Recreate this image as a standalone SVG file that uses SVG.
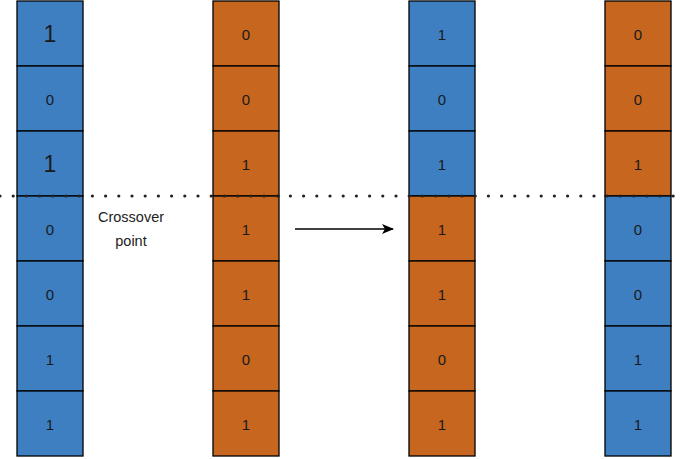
<svg xmlns="http://www.w3.org/2000/svg" width="685" height="459" viewBox="0 0 685 459">
<style>
.b{fill:#3E7FC2;stroke:#000;stroke-width:1.3}
.o{fill:#C6661F;stroke:#000;stroke-width:1.3}
.t{font-family:"Liberation Sans",Arial,sans-serif;font-size:15px;fill:#1a1a1a;text-anchor:middle;dominant-baseline:central}
.big{font-size:23px}
.lbl{font-family:"Liberation Sans",Arial,sans-serif;font-size:14.5px;fill:#222;text-anchor:middle}
</style>
<defs>
<marker id="ah" markerWidth="12" markerHeight="10" refX="11" refY="5" orient="auto" markerUnits="userSpaceOnUse">
<path d="M0,0 L12,5 L0,10 L3,5 Z" fill="#000"/>
</marker>
</defs>
<rect width="685" height="459" fill="#fff"/>
<g id="col1">
<rect class="b" x="17" y="1" width="66" height="65"/><text class="t big" x="50" y="34">1</text>
<rect class="b" x="17" y="66" width="66" height="65"/><text class="t" x="50" y="99">0</text>
<rect class="b" x="17" y="131" width="66" height="65"/><text class="t big" x="50" y="164">1</text>
<rect class="b" x="17" y="196" width="66" height="65"/><text class="t" x="50" y="229">0</text>
<rect class="b" x="17" y="261" width="66" height="65"/><text class="t" x="50" y="294">0</text>
<rect class="b" x="17" y="326" width="66" height="65"/><text class="t" x="50" y="359">1</text>
<rect class="b" x="17" y="391" width="66" height="65"/><text class="t" x="50" y="424">1</text>
</g>
<g id="col2">
<rect class="o" x="213" y="1" width="66" height="65"/><text class="t" x="246" y="34">0</text>
<rect class="o" x="213" y="66" width="66" height="65"/><text class="t" x="246" y="99">0</text>
<rect class="o" x="213" y="131" width="66" height="65"/><text class="t" x="246" y="164">1</text>
<rect class="o" x="213" y="196" width="66" height="65"/><text class="t" x="246" y="229">1</text>
<rect class="o" x="213" y="261" width="66" height="65"/><text class="t" x="246" y="294">1</text>
<rect class="o" x="213" y="326" width="66" height="65"/><text class="t" x="246" y="359">0</text>
<rect class="o" x="213" y="391" width="66" height="65"/><text class="t" x="246" y="424">1</text>
</g>
<g id="col3">
<rect class="b" x="409" y="1" width="66" height="65"/><text class="t" x="442" y="34">1</text>
<rect class="b" x="409" y="66" width="66" height="65"/><text class="t" x="442" y="99">0</text>
<rect class="b" x="409" y="131" width="66" height="65"/><text class="t" x="442" y="164">1</text>
<rect class="o" x="409" y="196" width="66" height="65"/><text class="t" x="442" y="229">1</text>
<rect class="o" x="409" y="261" width="66" height="65"/><text class="t" x="442" y="294">1</text>
<rect class="o" x="409" y="326" width="66" height="65"/><text class="t" x="442" y="359">0</text>
<rect class="o" x="409" y="391" width="66" height="65"/><text class="t" x="442" y="424">1</text>
</g>
<g id="col4">
<rect class="o" x="605" y="1" width="66" height="65"/><text class="t" x="638" y="34">0</text>
<rect class="o" x="605" y="66" width="66" height="65"/><text class="t" x="638" y="99">0</text>
<rect class="o" x="605" y="131" width="66" height="65"/><text class="t" x="638" y="164">1</text>
<rect class="b" x="605" y="196" width="66" height="65"/><text class="t" x="638" y="229">0</text>
<rect class="b" x="605" y="261" width="66" height="65"/><text class="t" x="638" y="294">0</text>
<rect class="b" x="605" y="326" width="66" height="65"/><text class="t" x="638" y="359">1</text>
<rect class="b" x="605" y="391" width="66" height="65"/><text class="t" x="638" y="424">1</text>
</g>
<g id="label">
<text class="lbl" x="131" y="222">Crossover</text>
<text class="lbl" x="131" y="246">point</text>
</g>
<g id="connectors">
<line x1="0" y1="196" x2="685" y2="196" stroke="#222" stroke-width="3.2" stroke-linecap="round" stroke-dasharray="0 13.2"/>
<line x1="295" y1="229" x2="393" y2="229" stroke="#000" stroke-width="1.5" marker-end="url(#ah)"/>
</g>
</svg>
